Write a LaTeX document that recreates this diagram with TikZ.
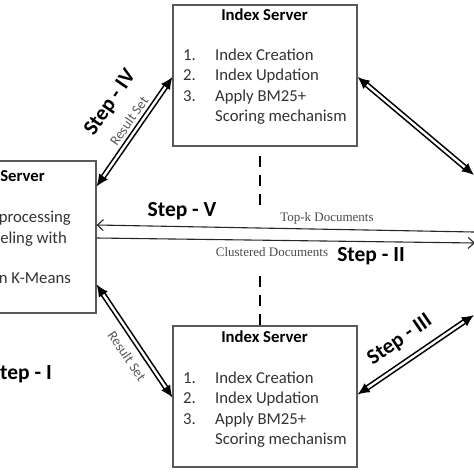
\documentclass[tikz,border=0pt]{standalone}
\usepackage{fontspec}
\setmainfont{Carlito}
\newfontfamily\tnr{Liberation Serif}
\usetikzlibrary{arrows.meta}
\begin{document}
\begin{tikzpicture}[x=1pt,y=-1pt,
  box/.style={draw=black!65,line width=1.1pt,minimum width=184pt,minimum height=141pt,inner sep=0pt},
  lbox/.style={draw=black!65,line width=1.1pt,minimum width=156pt,minimum height=152pt,inner sep=0pt},
  hd/.style={font=\fontsize{16.7}{20}\selectfont\bfseries,text=black,inner sep=0pt,anchor=base},
  itm/.style={font=\fontsize{16.7}{20}\selectfont,text=black!80,inner sep=0pt,anchor=base west},
  lft/.style={font=\fontsize{16.7}{20}\selectfont,text=black!80,inner sep=0pt,anchor=base east},
  steplbl/.style={font=\fontsize{21.5}{24}\selectfont\bfseries,text=black,inner sep=0pt},
  rs/.style={font=\fontsize{14}{16}\selectfont,text=black!65,inner sep=0pt},
  doc/.style={font=\tnr\fontsize{13}{15}\selectfont,text=black!70,inner sep=0pt},
  dbl/.style={draw=black,line width=1.6pt,double=white,double distance=2.4pt,
    {Latex[length=12pt,width=11pt]}-{Latex[length=12pt,width=11pt]}},
  harr/.style={draw=black!85,line width=1.1pt,-{Straight Barb[length=6pt,width=11pt]}},
  vdash/.style={draw=black,line width=2.5pt,dash pattern=on 11pt off 8pt}]
\useasboundingbox (0,0) rectangle (474,474);
\clip (0,0) rectangle (474,474);
\fill[white] (0,0) rectangle (474,474);

% boxes
\node[box] (top) at (265,75.5) {};
\node[box] (bot) at (265,396.5) {};
\node[lbox] (left) at (18,237) {};

% top box text
\node[hd] (th) at (264.5,20) {Index Server};
\node[itm] (t1n) at (183,60) {1.};
\node[itm] (t1) at (215,60) {Index Creation};
\node[itm] (t2n) at (183,80.5) {2.};
\node[itm] (t2) at (215,80.5) {Index Updation};
\node[itm] (t3n) at (183,101) {3.};
\node[itm] (t3) at (215,101) {Apply BM25+};
\node[itm] (t4) at (215,121.5) {Scoring mechanism};

% bottom box text
\node[hd] (bh) at (264.5,342) {Index Server};
\node[itm] (b1n) at (183,383) {1.};
\node[itm] (b1) at (215,383) {Index Creation};
\node[itm] (b2n) at (183,403.5) {2.};
\node[itm] (b2) at (215,403.5) {Index Updation};
\node[itm] (b3n) at (183,424) {3.};
\node[itm] (b3) at (215,424) {Apply BM25+};
\node[itm] (b4) at (215,444.5) {Scoring mechanism};

% left box text (cut by the picture edge)
\node[lft,font=\fontsize{16.7}{20}\selectfont\bfseries,text=black] (lh) at (45,181) {Server};
\node[lft] (l1) at (71,222) {processing};
\node[lft] (l2) at (67,243) {eling with};
\node[lft] (l3) at (71,283) {n K-Means};

% off-picture ends
\coordinate (r1) at (474,175);
\coordinate (r2) at (474,315);
\coordinate (r3) at (474,232);
\coordinate (r4) at (475,243);

% double arrows
\draw[dbl] ([yshift=-26pt]left.north east) -- ([yshift=-1.5pt]top.west);
\draw[dbl] ([yshift=-1.5pt]top.east) -- (r1);
\draw[dbl] ([yshift=-124pt]left.north east) -- ([yshift=-1pt]bot.west);
\draw[dbl] ([yshift=2pt]bot.east) -- (r2);

% horizontal arrows
\draw[harr] (r3) -- ([yshift=12pt]left.east);
\draw[harr] ([yshift=-1pt]left.east) -- (r4);

% dashed separators
\draw[vdash] ([xshift=-5pt,yshift=-9pt]top.south) -- ++(0,52);
\draw[vdash] ([xshift=-5pt]bot.north) -- ++(0,-49);

% labels
\node[steplbl,rotate=55.4] (s4) at (110.5,103) {Step - IV};
\node[rs,rotate=55.4] (rs1) at (129,121) {Result Set};
\node[rs,rotate=-55.4] (rs2) at (127,356) {Result Set};
\node[steplbl,rotate=34.5] (s3) at (400,340) {Step - III};
\node[steplbl] (s5) at (182,211) {Step - V};
\node[steplbl] (s2) at (371,256) {Step - II};
\node[steplbl,anchor=base east] (s1) at (52,379) {Step - I};
\node[doc] (tk) at (327,218) {Top-k Documents};
\node[doc] (cd) at (272,252) {Clustered Documents};
\end{tikzpicture}
\end{document}
